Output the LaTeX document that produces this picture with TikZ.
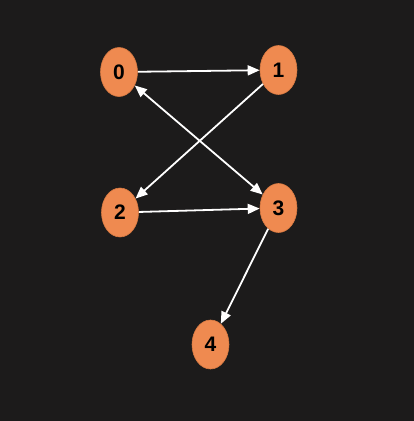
\documentclass[tikz,border=0pt]{standalone}
\usepackage{fontspec}
\setmainfont{Liberation Sans}
\usetikzlibrary{arrows.meta,shapes.geometric}
\definecolor{bg}{HTML}{1C1B1B}
\definecolor{nodefill}{HTML}{EF8A50}
\definecolor{nodeedge}{HTML}{D87A42}
\begin{document}
\begin{tikzpicture}[x=1pt,y=-1pt,
  vert/.style={ellipse,fill=nodefill,draw=nodeedge,line width=0.6pt,minimum width=37pt,minimum height=49pt,inner sep=0pt,font=\fontsize{21}{25}\selectfont\bfseries,text=black},
  edge/.style={draw=white,line width=1.8pt,-{Triangle[length=12pt,width=10pt]}},
  bedge/.style={draw=white,line width=1.8pt,{Triangle[length=12pt,width=10pt]}-{Triangle[length=12pt,width=10pt]}}]
\fill[bg] (0,0) rectangle (414,421);
\useasboundingbox (0,0) rectangle (414,421);
\node[vert] (n0) at (119,72) {0};
\node[vert] (n1) at (278.5,70) {1};
\node[vert] (n2) at (120,212.5) {2};
\node[vert] (n3) at (278.5,208) {3};
\node[vert] (n4) at (210.5,344.5) {4};
\draw[edge] (n0) -- (n1);
\draw[edge] (n1) -- (n2);
\draw[edge] (n2) -- (n3);
\draw[edge] (n3) -- (n4);
\draw[bedge] (n0) -- (n3);
\end{tikzpicture}
\end{document}
